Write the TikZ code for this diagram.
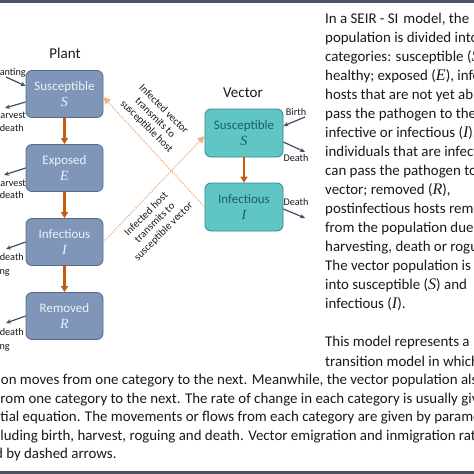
\documentclass[tikz,border=0pt]{standalone}
\usepackage{fontspec}
\setmainfont{Carlito}
\newfontfamily\varfont{Liberation Serif}
\newcommand{\V}[1]{{\varfont\itshape\scalebox{1.08}{#1}}}
\usetikzlibrary{arrows.meta}
\definecolor{plantfill}{RGB}{127,150,184}
\definecolor{plantdraw}{RGB}{85,106,138}
\definecolor{planttext}{RGB}{238,242,248}
\definecolor{vecfill}{RGB}{96,197,197}
\definecolor{vecdraw}{RGB}{45,140,140}
\definecolor{vectext}{RGB}{25,95,100}
\definecolor{flow}{RGB}{197,90,17}
\definecolor{transm}{RGB}{244,177,131}
\definecolor{side}{RGB}{64,80,100}
\definecolor{barcol}{RGB}{75,85,102}
\definecolor{bodytext}{RGB}{25,25,25}
\tikzset{
  plantbox/.style={draw=plantdraw, line width=0.8pt, fill=plantfill, rounded corners=6pt,
    minimum width=77pt, minimum height=47pt, align=center, text=planttext,
    font=\fontsize{13}{16}\selectfont, inner sep=0pt},
  vecbox/.style={draw=vecdraw, line width=0.8pt, fill=vecfill, rounded corners=6pt,
    minimum width=78pt, minimum height=48pt, align=center, text=vectext,
    font=\fontsize{13}{16}\selectfont, inner sep=0pt},
  grouptitle/.style={font=\fontsize{15}{18}\selectfont, text=bodytext, inner sep=0pt},
  flowarrow/.style={draw=flow, line width=2.2pt, -{Triangle[length=6pt,width=7pt]}},
  transarrow/.style={draw=transm, line width=1.3pt, dash pattern=on 1.2pt off 1.4pt,
    -{Triangle[length=7pt,width=7pt]}},
  sidearrow/.style={draw=side, line width=1.2pt, -{Stealth[length=5pt,width=4.5pt]}},
  smalllabel/.style={font=\fontsize{10.2}{12}\selectfont, text=bodytext, inner sep=0pt},
  translabel/.style={font=\fontsize{10.6}{12.2}\selectfont, text=bodytext, inner sep=0pt, align=center},
  coltext/.style={anchor=base west, inner sep=0pt, font=\fontsize{14.9}{18}\selectfont, text=bodytext}
}
\begin{document}
\begin{tikzpicture}[x=1pt,y=-1pt]
\path[use as bounding box] (0,0) rectangle (474,474);
\clip (0,0) rectangle (474,474);
\fill[white] (0,0) rectangle (474,474);
\fill[barcol] (0,0) rectangle (474,2.7);
\fill[barcol] (0,470.7) rectangle (474,474);

% plant column
\node[grouptitle] (plant) at (65,53) {Plant};
\node[plantbox] (pS) at (64.5,94) {Susceptible\\\V{S}};
\node[plantbox] (pE) at (64.5,168) {Exposed\\\V{E}};
\node[plantbox] (pI) at (64.5,242) {Infectious\\\V{I}};
\node[plantbox] (pR) at (64.5,316) {Removed\\\V{R}};
\draw[flowarrow] (pS.south) -- (pE.north);
\draw[flowarrow] (pE.south) -- (pI.north);
\draw[flowarrow] (pI.south) -- (pR.north);

% vector column
\node[grouptitle] (vector) at (243,93) {Vector};
\node[vecbox] (vS) at (244,133) {Susceptible\\\V{S}};
\node[vecbox] (vI) at (244,207) {Infectious\\\V{I}};
\draw[flowarrow] (vS.south) -- (vI.north);

% transmission
\draw[transarrow] (vI.west) -- ([yshift=-3pt]pS.east);
\draw[transarrow] (pI.east) -- ([yshift=-3pt]vS.west);
\node[translabel, rotate=-45] (lab1) at (155,118) {Infected vector\\transmits to\\susceptible host};
\node[translabel, rotate=45] (lab2) at (155,223) {Infected host\\transmits to\\susceptible vector};

% plant side flows
\coordinate (plantin) at (6,77);
\coordinate (sout) at (5,108);
\coordinate (eout) at (4,175);
\coordinate (iout) at (6,249);
\coordinate (rout) at (6,323);
\draw[sidearrow] (plantin) -- ([yshift=8pt]pS.west);
\draw[sidearrow] ([yshift=-8pt]pS.west) -- (sout);
\draw[sidearrow] (pE.west) -- (eout);
\draw[sidearrow] (pI.west) -- (iout);
\draw[sidearrow] (pR.west) -- (rout);
\node[smalllabel, anchor=base east] (l1) at (26,75.5) {Planting};
\node[smalllabel, anchor=base east] (l2) at (26,118.5) {Harvest};
\node[smalllabel, anchor=base east] (l3) at (24,131.5) {death};
\node[smalllabel, anchor=base east] (l4) at (26,186.5) {Harvest};
\node[smalllabel, anchor=base east] (l5) at (24,198.5) {death};
\node[smalllabel, anchor=base east] (l6) at (24,260.5) {death};
\node[smalllabel, anchor=base east] (l7) at (10,274.5) {Roguing};
\node[smalllabel, anchor=base east] (l8) at (24,335.5) {death};
\node[smalllabel, anchor=base east] (l9) at (10,349.5) {Roguing};

% vector side flows
\coordinate (birthin) at (305,117);
\coordinate (sdeath) at (305,152);
\coordinate (ideath) at (305,218);
\draw[sidearrow] (birthin) -- ([yshift=7pt]vS.east);
\draw[sidearrow] ([yshift=-9pt]vS.east) -- (sdeath);
\draw[sidearrow] ([yshift=-2pt]vI.east) -- (ideath);
\node[smalllabel, anchor=base] (b1) at (296,115.5) {Birth};
\node[smalllabel, anchor=base] (b2) at (296,161.5) {Death};
\node[smalllabel, anchor=base] (b3) at (296,205.5) {Death};

% text column
\node[coltext] (t1) at (325,23.3) {In a SEIR - SI\hspace{5pt}model, the};
\node[coltext] (t2) at (325,42.3) {population is divided into two};
\node[coltext] (t3) at (325,61.3) {categories: susceptible (\V{S}), or};
\node[coltext] (t4) at (325,80.3) {healthy; exposed (\V{E}), infected};
\node[coltext] (t5) at (325,99.3) {hosts that are not yet able to};
\node[coltext] (t6) at (325,118.3) {pass the pathogen to the vector;};
\node[coltext] (t7) at (325,137.3) {infective or infectious (\V{I}),};
\node[coltext] (t8) at (325,156.3) {individuals that are infected and};
\node[coltext] (t9) at (325,175.3) {can pass the pathogen to the};
\node[coltext] (t10) at (325,194.3) {vector; removed (\V{R}),};
\node[coltext] (t11) at (325,213.3) {postinfectious hosts removed};
\node[coltext] (t12) at (325,232.3) {from the population due to};
\node[coltext] (t13) at (325,251.3) {harvesting, death or roguing.};
\node[coltext] (t14) at (325,270.3) {The vector population is divided};
\node[coltext] (t15) at (325,289.3) {into susceptible (\V{S}) and};
\node[coltext] (t16) at (325,308.3) {infectious (\V{I}).};
\node[coltext] (t17) at (325,346.7) {This model represents a};
\node[coltext] (t18) at (325,366.4) {transition model in which the host};
\node[coltext] (t19) at (0.7,384.7) {on moves from one category to the next. Meanwhile, the vector population also};
\node[coltext] (t20) at (0.3,403.2) {rom one category to the next. The rate of change in each category is usually given};
\node[coltext] (t21) at (0.3,421.7) {tial equation. The movements or flows from each category are given by parameters};
\node[coltext] (t22) at (0.3,440.2) {luding birth, harvest, roguing and death. Vector emigration and inmigration rates};
\node[coltext] (t23) at (-5.1,458.7) {d by dashed arrows.};
\end{tikzpicture}
\end{document}
